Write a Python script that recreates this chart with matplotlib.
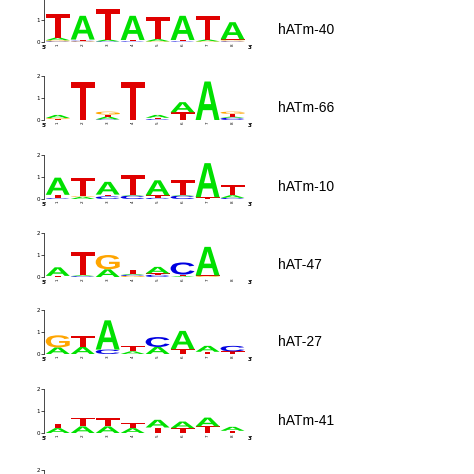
import matplotlib
matplotlib.use("Agg")
import matplotlib.pyplot as plt
from matplotlib.textpath import TextPath
from matplotlib.patches import PathPatch
from matplotlib.font_manager import FontProperties
from matplotlib.transforms import Affine2D

# stacks per position, bottom to top: (letter, bits)
hatm40 = [[('C', 0.03), ('G', 0.05), ('A', 0.12), ('T', 1.08)],
          [('G', 0.03), ('C', 0.03), ('T', 0.05), ('A', 1.08)],
          [('C', 0.03), ('A', 0.08), ('T', 1.41)],
          [('C', 0.03), ('T', 0.06), ('A', 1.10)],
          [('G', 0.03), ('A', 0.10), ('T', 0.99)],
          [('C', 0.03), ('T', 0.06), ('A', 1.10)],
          [('G', 0.03), ('A', 0.08), ('T', 1.05)],
          [('C', 0.03), ('G', 0.04), ('T', 0.05), ('A', 0.78)]]
hatm66 = [[('T', 0.04), ('G', 0.05), ('A', 0.14)],
          [('T', 1.75)],
          [('C', 0.03), ('A', 0.12), ('T', 0.10), ('G', 0.13)],
          [('T', 1.75)],
          [('C', 0.04), ('T', 0.06), ('A', 0.13)],
          [('T', 0.35), ('A', 0.46)],
          [('A', 1.75)],
          [('C', 0.10), ('A', 0.05), ('T', 0.13), ('G', 0.10)]]
hatm10 = [[('C', 0.04), ('T', 0.15), ('A', 0.78)],
          [('A', 0.10), ('G', 0.03), ('T', 0.84)],
          [('C', 0.12), ('T', 0.08), ('A', 0.58)],
          [('C', 0.15), ('A', 0.03), ('T', 0.89)],
          [('C', 0.05), ('T', 0.12), ('A', 0.68)],
          [('C', 0.15), ('A', 0.03), ('T', 0.67)],
          [('T', 0.08), ('A', 1.55)],
          [('C', 0.05), ('A', 0.12), ('T', 0.46)]]
hat47 = [[('T', 0.05), ('A', 0.39)],
         [('C', 0.04), ('A', 0.04), ('T', 1.07)],
         [('A', 0.35), ('G', 0.65)],
         [('G', 0.05), ('C', 0.05), ('A', 0.04), ('T', 0.20)],
         [('C', 0.10), ('T', 0.06), ('A', 0.30)],
         [('A', 0.04), ('T', 0.07), ('C', 0.55)],
         [('G', 0.04), ('T', 0.03), ('A', 1.30)],
         []]
hat27 = [[('A', 0.30), ('G', 0.55)],
         [('A', 0.32), ('T', 0.50)],
         [('C', 0.20), ('A', 1.33)],
         [('A', 0.12), ('T', 0.25)],
         [('A', 0.32), ('C', 0.45)],
         [('T', 0.22), ('A', 0.83)],
         [('T', 0.10), ('A', 0.27)],
         [('T', 0.12), ('C', 0.25)]]
hatm41 = [[('A', 0.22), ('T', 0.20)],
          [('A', 0.30), ('T', 0.40)],
          [('A', 0.30), ('T', 0.37)],
          [('A', 0.22), ('T', 0.24)],
          [('T', 0.25), ('A', 0.35)],
          [('T', 0.22), ('A', 0.30)],
          [('T', 0.30), ('A', 0.40)],
          [('T', 0.10), ('A', 0.18)]]

logos = [hatm40, hatm66, hatm10, hat47, hat27, hatm41]
names = ['hATm-40', 'hATm-66', 'hATm-10', 'hAT-47', 'hAT-27', 'hATm-41']
baselines_px = [42, 120, 199, 277, 354, 433]

colors = {'A': '#00e000', 'C': '#0000e0', 'G': '#ffa500', 'T': '#e00000'}
fp = FontProperties(family='Liberation Sans', weight='bold')
paths = {}
for L in 'ACGT':
    p = TextPath((0, 0), L, size=1, prop=fp)
    paths[L] = p


def draw_letter(ax, L, x, y, w, h):
    p = paths[L]
    ext = p.get_extents()
    t = (Affine2D().translate(-ext.x0, -ext.y0)
         .scale(w / ext.width, h / ext.height).translate(x, y))
    ax.add_patch(PathPatch(t.transform_path(p), facecolor=colors[L],
                           edgecolor='none'))


W = H = 474
fig = plt.figure(figsize=(4.74, 4.74), dpi=100)
px_per_bit = 22
left, right = 44, 250


def make_axes(base):
    top = base - 2 * px_per_bit
    return fig.add_axes([left / W, 1 - base / H, (right - left) / W,
                         2 * px_per_bit / H])


for logo, name, base in zip(logos, names, baselines_px):
    ax = make_axes(base)
    ax.set_xlim(0.45, 8.7)
    ax.set_ylim(0, 2)
    for i, col in enumerate(logo):
        y = 0
        for L, h in col:
            draw_letter(ax, L, i + 1 - 0.48, y, 0.96, h)
            y += h
    for s in ['top', 'right', 'bottom']:
        ax.spines[s].set_visible(False)
    ax.spines['left'].set_linewidth(0.5)
    ax.set_yticks([0, 1, 2])
    ax.tick_params(axis='y', labelsize=4, length=2, width=0.5, pad=1)
    ax.set_xticks(range(1, 9))
    ax.set_xticklabels([str(i) for i in range(1, 9)], rotation=90)
    ax.tick_params(axis='x', labelsize=3, length=0, pad=1)
    ax.text(0.45, -0.12, "5'", fontsize=4, ha='center', va='top',
            fontweight='bold')
    ax.text(8.7, -0.12, "3'", fontsize=4, ha='center', va='top',
            fontweight='bold')
    fig.text(278 / W, 1 - (base - 12) / H, name, fontsize=10,
             ha='left', va='center', family='Liberation Sans')

# partial next panel at the very bottom
ax = make_axes(470 + 2 * px_per_bit)
ax.set_ylim(0, 2)
for s in ['top', 'right', 'bottom']:
    ax.spines[s].set_visible(False)
ax.spines['left'].set_linewidth(0.5)
ax.set_yticks([2])
ax.set_xticks([])
ax.tick_params(axis='y', labelsize=4, length=2, width=0.5, pad=1)

fig.savefig('out.png', dpi=100)
